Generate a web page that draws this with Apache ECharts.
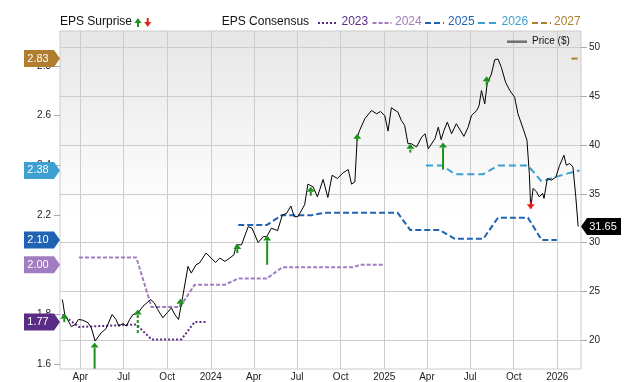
<!DOCTYPE html>
<html><head><meta charset="utf-8">
<script src="https://cdn.jsdelivr.net/npm/echarts@6/dist/echarts.min.js"></script>
<style>html,body{margin:0;padding:0;background:#fff}#c{width:640px;height:382px}</style>
</head><body><div id="c"></div>
<script>
// ---------- data ----------
const xTicks = ['2023-04-01','2023-07-01','2023-10-01','2024-01-01','2024-04-01','2024-07-01','2024-10-01','2025-01-01','2025-04-01','2025-07-01','2025-10-01','2026-01-01'];
const monthNames = ['Jan','Feb','Mar','Apr','May','Jun','Jul','Aug','Sep','Oct','Nov','Dec'];
const epsTicks = [1.6, 1.8, 2.0, 2.2, 2.4, 2.6, 2.8];
const priceTicks = [20, 25, 30, 35, 40, 45, 50];
const xMin = '2023-02-17';
const xMax = '2026-02-20';

const priceDates = ['2023-02-22','2023-02-27','2023-03-13','2023-03-21','2023-03-28','2023-04-06','2023-04-17','2023-04-24','2023-05-02','2023-05-15','2023-05-25','2023-06-07','2023-06-15','2023-06-21','2023-06-30','2023-07-07','2023-07-14','2023-07-21','2023-07-31','2023-08-11','2023-08-27','2023-09-04','2023-09-11','2023-09-22','2023-10-01','2023-10-10','2023-10-17','2023-10-25','2023-11-03','2023-11-14','2023-11-21','2023-12-01','2023-12-08','2023-12-22','2024-01-02','2024-01-11','2024-01-20','2024-01-31','2024-02-10','2024-02-19','2024-02-24','2024-03-06','2024-03-20','2024-03-28','2024-04-10','2024-04-21','2024-04-28','2024-05-08','2024-05-21','2024-05-31','2024-06-09','2024-06-18','2024-06-25','2024-07-03','2024-07-17','2024-07-24','2024-08-04','2024-08-13','2024-08-25','2024-09-04','2024-09-13','2024-09-24','2024-10-06','2024-10-17','2024-10-24','2024-10-31','2024-11-05','2024-11-10','2024-11-21','2024-12-05','2024-12-16','2024-12-24','2025-01-02','2025-01-09','2025-01-16','2025-01-30','2025-02-06','2025-02-13','2025-02-20','2025-02-27','2025-03-10','2025-03-21','2025-03-28','2025-04-04','2025-04-18','2025-04-25','2025-05-01','2025-05-07','2025-05-14','2025-05-23','2025-06-02','2025-06-18','2025-06-27','2025-07-04','2025-07-15','2025-07-20','2025-07-25','2025-08-01','2025-08-06','2025-08-15','2025-08-22','2025-08-29','2025-09-05','2025-09-14','2025-09-23','2025-10-03','2025-10-10','2025-10-21','2025-10-29','2025-11-03','2025-11-06','2025-11-11','2025-11-18','2025-11-24','2025-12-01','2025-12-04','2025-12-11','2025-12-20','2025-12-29','2026-01-06','2026-01-15','2026-01-20','2026-01-27','2026-02-03','2026-02-09','2026-02-14'];
const priceValues = [24.18,22.65,21.40,21.63,22.14,22.07,21.80,21.29,19.93,20.78,21.19,22.65,22.14,21.46,21.73,21.46,22.14,22.65,22.75,23.49,24.18,23.84,23.16,22.31,22.82,23.33,22.65,22.14,24.51,27.57,26.89,27.74,27.91,28.93,28.42,27.97,28.42,28.08,28.42,28.76,29.78,29.78,31.64,31.48,30.01,30.62,30.62,31.48,31.23,32.83,33.00,33.75,32.66,32.66,33.88,35.99,35.71,34.69,36.47,34.63,36.90,36.57,37.14,37.48,35.99,36.22,40.80,41.49,42.68,43.52,43.19,43.42,43.01,41.42,43.80,43.35,42.51,42.00,40.13,40.13,39.79,40.80,41.15,39.62,40.64,41.82,40.54,41.49,42.33,41.15,42.17,40.88,41.82,43.01,43.52,44.03,45.56,44.21,46.24,47.26,48.72,48.79,47.93,46.40,45.56,44.88,43.19,41.66,40.47,37.08,33.51,35.55,35.20,34.69,35.04,34.53,36.57,36.40,36.73,37.92,38.94,37.92,38.10,37.75,34.69,31.65];

const c2023Dates = ['2023-02-22','2023-03-29','2023-07-28','2023-08-29','2023-10-31','2023-11-28','2023-12-25'];
const c2023Values = [1.80,1.75,1.76,1.70,1.70,1.77,1.77];
const c2024Dates = ['2023-03-29','2023-07-28','2023-08-29','2023-10-28','2023-11-28','2024-01-31','2024-02-28','2024-04-28','2024-05-31','2024-10-27','2024-11-10','2024-12-30'];
const c2024Values = [2.03,2.03,1.83,1.83,1.92,1.92,1.945,1.945,1.99,1.99,2.00,2.00];
const c2025Dates = ['2024-02-28','2024-04-28','2024-05-30','2024-08-01','2024-08-29','2025-01-29','2025-02-25','2025-04-28','2025-05-30','2025-07-29','2025-08-29','2025-10-31','2025-11-29','2025-12-31'];
const c2025Values = [2.16,2.16,2.20,2.20,2.21,2.21,2.14,2.14,2.105,2.105,2.19,2.19,2.10,2.10];
const c2026Dates = ['2025-03-30','2025-05-03','2025-05-30','2025-07-29','2025-08-29','2025-10-31','2025-11-29','2025-12-31','2026-01-27','2026-02-17'];
const c2026Values = [2.40,2.40,2.365,2.365,2.40,2.40,2.335,2.355,2.37,2.38];
const c2027Dates = ['2026-01-31','2026-02-17'];
const c2027Values = [2.83,2.83];

const surpriseDates = ['2023-02-26','2023-05-01','2023-07-31','2023-10-29','2024-02-26','2024-04-29','2024-07-30','2024-11-05','2025-02-25','2025-05-05','2025-08-05','2025-11-06'];
const surpriseFrom = [21.86,17.1,20.76,23.43,28.93,27.74,34.80,40.40,39.22,37.48,46.07,34.19];
const surpriseTo = [22.72,19.77,23.16,24.25,29.85,30.72,35.71,41.15,40.13,40.26,47.02,33.41];
const surpriseDashed = [0,0,1,0,0,0,0,0,1,0,0,0];

// ---------- helpers / styles ----------
const ts = s => { const p = s.split('-').map(Number); return Date.UTC(p[0], p[1] - 1, p[2]); };
const FONT = '"Liberation Sans", Arial, sans-serif';
const consensus = [
  {name:'2023', dates:c2023Dates, values:c2023Values, color:'#5b2c86', dash:[2,2]},
  {name:'2024', dates:c2024Dates, values:c2024Values, color:'#a27cc1', dash:[4,2]},
  {name:'2025', dates:c2025Dates, values:c2025Values, color:'#2163b3', dash:[6,3]},
  {name:'2026', dates:c2026Dates, values:c2026Values, color:'#3d9fd2', dash:[7,4]},
  {name:'2027', dates:c2027Dates, values:c2027Values, color:'#b07e2e', dash:[6,3]}
];
// legend layout (pixels)
const legendIconX = [318, 372.5, 425, 478, 532];
const legendTextX = [341.5, 395, 448, 501.5, 554];
const zip = (a, b) => a.map((d, i) => [ts(d), b[i]]);

const series = consensus.map(c => {
  const last = c.values[c.values.length - 1];
  return {
    name: c.name, type: 'line', yAxisIndex: 0, symbol: 'none', silent: true,
    data: zip(c.dates, c.values),
    lineStyle: {color: c.color, width: 2, type: c.dash},
    itemStyle: {color: c.color},
    z: 2,
    markPoint: {
      silent: true,
      symbol: 'path://M0,0L30,0L36,8.5L30,17L0,17Z',
      symbolSize: [36, 17], symbolOffset: [-18, 0],
      itemStyle: {color: c.color},
      label: {show: true, color: '#fff', fontSize: 11, fontFamily: FONT, offset: [-4, 0],
              formatter: p => Number(p.value).toFixed(2)},
      data: [{coord: [ts(xMin), last], value: last}]
    }
  };
});

const lastPrice = priceValues[priceValues.length - 1];
series.push({
  name: 'Price ($)', type: 'line', yAxisIndex: 1, symbol: 'none', silent: true,
  data: zip(priceDates, priceValues),
  lineStyle: {color: '#000', width: 1}, itemStyle: {color: '#000'}, z: 3,
  markPoint: {
    silent: true,
    symbol: 'path://M0,8.5L6,0L40,0L40,17L6,17Z',
    symbolSize: [40, 17], symbolOffset: [20, 0],
    itemStyle: {color: '#000'},
    label: {show: true, color: '#fff', fontSize: 11, fontFamily: FONT, offset: [2, 0],
            formatter: p => Number(p.value).toFixed(2)},
    data: [{coord: [ts(xMax), lastPrice], value: lastPrice}]
  }
});

series.push({
  name: 'surprise', type: 'custom', yAxisIndex: 1, silent: true, z: 4,
  data: surpriseDates.map((d, i) => [ts(d), surpriseFrom[i], surpriseTo[i], surpriseDashed[i]]),
  renderItem: (params, api) => {
    const tail = api.coord([api.value(0), api.value(1)]);
    const tip = api.coord([api.value(0), api.value(2)]);
    const up = tip[1] < tail[1];
    const color = up ? '#1a931a' : '#e3231b';
    const hh = 5, hw = 4;
    const base = up ? tip[1] + hh : tip[1] - hh;
    const dashed = api.value(3) > 0;
    return {type: 'group', children: [
      {type: 'line', shape: {x1: tip[0], y1: tail[1], x2: tip[0], y2: base},
       style: {stroke: color, lineWidth: 2, lineDash: dashed ? [3, 2] : null}},
      {type: 'polygon', shape: {points: [[tip[0], tip[1]], [tip[0] - hw, base], [tip[0] + hw, base]]},
       style: {fill: color}}
    ]};
  }
});

const graphics = [
  {type: 'text', left: 60, top: 16, style: {text: 'EPS Surprise', font: '12px ' + FONT, fill: '#111'}},
  {type: 'rect', shape: {x: 137, y: 22, width: 2, height: 5}, style: {fill: '#1a931a'}},
  {type: 'polygon', shape: {points: [[138, 18], [134.5, 23], [141.5, 23]]}, style: {fill: '#1a931a'}},
  {type: 'rect', shape: {x: 146.7, y: 18, width: 2, height: 5}, style: {fill: '#e3231b'}},
  {type: 'polygon', shape: {points: [[144.2, 22], [151.2, 22], [147.7, 27]]}, style: {fill: '#e3231b'}},
  {type: 'text', left: 221.7, top: 16, style: {text: 'EPS Consensus', font: '12px ' + FONT, fill: '#111'}},
  {type: 'line', z: 10, shape: {x1: 507, y1: 41.7, x2: 527, y2: 41.7}, style: {stroke: '#6f6f6f', lineWidth: 2.5}},
  {type: 'text', z: 10, left: 532, top: 36, style: {text: 'Price ($)', font: '10px ' + FONT, fill: '#111'}}
];
consensus.forEach((c, i) => {
  graphics.push({type: 'line', shape: {x1: legendIconX[i], y1: 23, x2: legendIconX[i] + 19, y2: 23},
    style: {stroke: c.color, lineWidth: 2, lineDash: c.dash}});
  graphics.push({type: 'text', left: legendTextX[i], top: 16,
    style: {text: c.name, font: '12px ' + FONT, fill: c.color}});
});

const chart = echarts.init(document.getElementById('c'), null, {renderer: 'canvas'});
chart.setOption({
  animation: false,
  textStyle: {fontFamily: FONT},
  grid: {left: 60, right: 59, top: 31, bottom: 12, show: true, borderColor: '#cccccc', borderWidth: 1,
    backgroundColor: {type: 'linear', x: 0, y: 0, x2: 0, y2: 1,
      colorStops: [{offset: 0, color: '#e6e6e6'}, {offset: 0.55, color: '#ffffff'}, {offset: 1, color: '#ffffff'}]}},
  xAxis: {
    type: 'value', min: ts(xMin), max: ts(xMax),
    axisLine: {show: false},
    axisTick: {show: false, customValues: xTicks.map(ts)},
    axisLabel: {customValues: xTicks.map(ts), fontSize: 10, color: '#222', margin: 3, fontFamily: FONT,
      formatter: v => { const d = new Date(v); return d.getUTCMonth() === 0 ? String(d.getUTCFullYear()) : monthNames[d.getUTCMonth()]; }},
    splitLine: {show: true, lineStyle: {color: '#cccccc', width: 1}}
  },
  yAxis: [
    {type: 'value', position: 'left', min: 1.581, max: 2.941,
     axisLine: {show: false},
     axisTick: {show: true, length: 6, customValues: epsTicks, lineStyle: {color: '#aaaaaa'}},
     axisLabel: {customValues: epsTicks, fontSize: 10, color: '#222', margin: 9, fontFamily: FONT, formatter: v => v.toFixed(1)},
     splitLine: {show: false}},
    {type: 'value', position: 'right', min: 17.07, max: 51.66,
     axisLine: {show: false},
     axisTick: {show: true, length: 6, customValues: priceTicks, lineStyle: {color: '#aaaaaa'}},
     axisLabel: {customValues: priceTicks, fontSize: 10, color: '#222', margin: 8, fontFamily: FONT},
     splitLine: {show: true, lineStyle: {color: '#cccccc', width: 1}}}
  ],
  graphic: graphics,
  series: series
});
</script></body></html>
